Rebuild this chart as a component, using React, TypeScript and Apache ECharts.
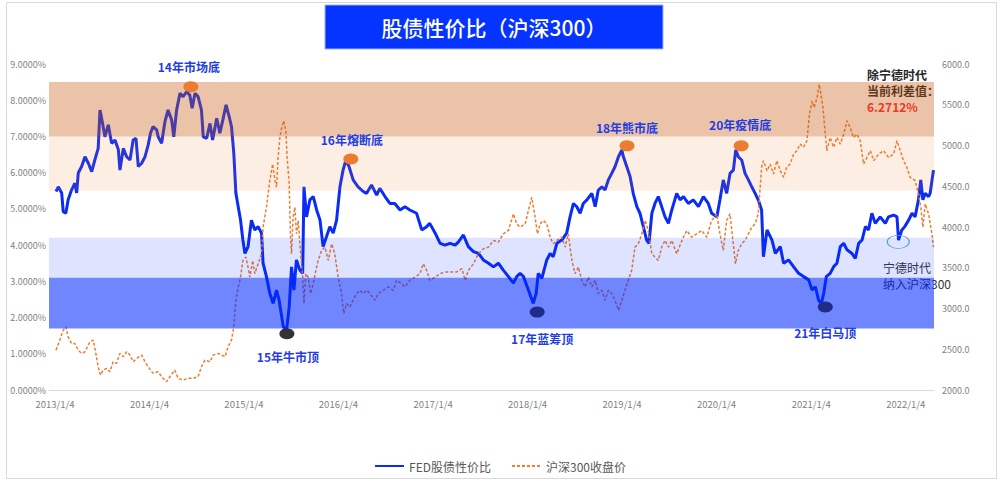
import React, { useEffect, useRef } from "react";
import * as echarts from "echarts";

// ---------- data ----------
const xTickLabels = ["2013/1/4", "2014/1/4", "2015/1/4", "2016/1/4", "2017/1/4", "2018/1/4", "2019/1/4", "2020/1/4", "2021/1/4", "2022/1/4"];
const xStart = "2012-12-12";
const xEnd = "2022-04-23";

// FED股债性价比 (%), left axis
const fedSeries: [string, number][] = [
  ["2013-01-08", 5.48], ["2013-01-17", 5.61], ["2013-01-30", 5.44], ["2013-02-05", 4.92], ["2013-02-15", 4.88], ["2013-02-24", 5.25], ["2013-03-09", 5.52], ["2013-03-22", 5.71], ["2013-03-29", 5.44], ["2013-04-04", 5.99], ["2013-04-17", 6.17], ["2013-04-30", 6.44], ["2013-05-13", 6.26], ["2013-05-26", 6.03], ["2013-06-07", 6.35], ["2013-06-20", 6.67], ["2013-06-27", 7.73], ["2013-07-07", 7.36], ["2013-07-16", 6.99], ["2013-07-29", 7.32], ["2013-08-11", 6.81], ["2013-08-24", 6.9], ["2013-09-06", 6.63], ["2013-09-12", 6.07], ["2013-09-25", 6.67], ["2013-10-08", 6.44], ["2013-10-21", 6.35], ["2013-11-02", 6.9], ["2013-11-13", 6.95], ["2013-11-22", 6.17], ["2013-12-05", 6.26], ["2013-12-18", 6.44], ["2013-12-30", 6.76],
  ["2014-01-08", 7.09], ["2014-01-18", 7.27], ["2014-02-01", 7.18], ["2014-02-07", 6.99], ["2014-02-20", 6.81], ["2014-03-05", 7.41], ["2014-03-17", 7.73], ["2014-03-31", 7.45], ["2014-04-08", 6.99], ["2014-04-19", 7.73], ["2014-05-02", 8.19], ["2014-05-14", 8.1], ["2014-05-28", 8.24], ["2014-06-09", 8.14], ["2014-06-18", 7.78], ["2014-06-29", 8.19], ["2014-07-11", 8.1], ["2014-07-24", 7.73], ["2014-07-31", 6.99], ["2014-08-13", 6.95], ["2014-08-26", 7.36], ["2014-09-05", 6.9], ["2014-09-21", 7.5], ["2014-10-03", 7.09], ["2014-10-16", 7.5], ["2014-10-27", 7.87], ["2014-11-08", 7.55], ["2014-11-17", 7.27], ["2014-11-26", 6.53], ["2014-12-04", 5.43], ["2014-12-13", 5.06], ["2014-12-22", 4.69], ["2014-12-31", 4.14],
  ["2015-01-08", 3.77], ["2015-01-20", 3.96], ["2015-02-02", 4.69], ["2015-02-15", 4.42], ["2015-02-28", 4.51], ["2015-03-13", 4.33], ["2015-03-19", 3.5], ["2015-04-01", 3.13], ["2015-04-14", 2.67], ["2015-04-27", 2.39], ["2015-05-10", 2.76], ["2015-05-20", 2.48], ["2015-06-05", 1.75], ["2015-06-18", 1.66], ["2015-06-28", 2.3], ["2015-07-07", 3.4], ["2015-07-16", 2.76], ["2015-07-26", 3.59], ["2015-08-08", 3.31], ["2015-08-19", 3.22], ["2015-08-24", 5.61], ["2015-09-03", 4.78], ["2015-09-16", 5.25], ["2015-09-29", 5.34], ["2015-10-12", 4.97], ["2015-10-25", 4.69], ["2015-11-06", 3.96], ["2015-11-19", 4.23], ["2015-12-02", 4.51], ["2015-12-15", 4.33], ["2015-12-28", 4.69],
  ["2016-01-10", 5.61], ["2016-01-22", 6.07], ["2016-02-02", 6.35], ["2016-02-14", 6.17], ["2016-03-01", 5.8], ["2016-03-20", 5.61], ["2016-04-09", 5.48], ["2016-04-22", 5.43], ["2016-05-11", 5.66], ["2016-05-31", 5.38], ["2016-06-12", 5.57], ["2016-07-02", 5.34], ["2016-07-21", 5.15], ["2016-08-09", 5.15], ["2016-08-29", 4.97], ["2016-09-17", 5.06], ["2016-10-06", 4.97], ["2016-11-01", 4.88], ["2016-11-21", 4.42], ["2016-12-10", 4.51], ["2016-12-22", 4.6],
  ["2017-01-12", 4.33], ["2017-01-31", 4.05], ["2017-02-19", 4.0], ["2017-03-10", 4.05], ["2017-03-30", 4.0], ["2017-04-12", 4.09], ["2017-05-01", 4.28], ["2017-05-20", 3.96], ["2017-06-09", 3.82], ["2017-06-28", 3.77], ["2017-07-17", 3.59], ["2017-08-06", 3.5], ["2017-08-25", 3.4], ["2017-09-13", 3.5], ["2017-10-02", 3.31], ["2017-10-22", 3.13], ["2017-11-10", 2.95], ["2017-11-23", 3.13], ["2017-12-06", 3.22], ["2017-12-19", 3.13],
  ["2018-01-07", 2.76], ["2018-01-26", 2.39], ["2018-02-06", 2.67], ["2018-02-14", 3.22], ["2018-02-28", 3.08], ["2018-03-19", 3.59], ["2018-04-01", 3.77], ["2018-04-13", 3.68], ["2018-04-27", 4.05], ["2018-05-16", 4.14], ["2018-06-04", 4.33], ["2018-06-17", 4.78], ["2018-06-30", 5.15], ["2018-07-13", 5.06], ["2018-07-26", 4.88], ["2018-08-07", 5.15], ["2018-08-21", 5.25], ["2018-09-09", 5.43], ["2018-09-22", 5.06], ["2018-10-04", 5.52], ["2018-10-18", 5.61], ["2018-10-30", 5.52], ["2018-11-12", 5.8], ["2018-11-25", 5.98], ["2018-12-08", 6.17], ["2018-12-21", 6.44],
  ["2019-01-03", 6.63], ["2019-01-09", 6.44], ["2019-01-22", 6.17], ["2019-02-04", 5.89], ["2019-02-16", 5.43], ["2019-03-02", 5.06], ["2019-03-14", 4.88], ["2019-03-27", 4.51], ["2019-04-09", 4.14], ["2019-04-18", 4.05], ["2019-04-29", 4.88], ["2019-05-11", 5.15], ["2019-05-24", 5.34], ["2019-06-06", 5.06], ["2019-06-19", 4.78], ["2019-07-02", 4.6], ["2019-07-15", 4.97], ["2019-08-03", 5.43], ["2019-08-16", 5.25], ["2019-08-29", 5.34], ["2019-09-17", 5.15], ["2019-10-06", 5.25], ["2019-10-26", 5.06], ["2019-11-14", 5.34], ["2019-12-03", 5.15], ["2019-12-16", 4.88],
  ["2020-01-05", 4.78], ["2020-01-17", 5.25], ["2020-01-30", 5.8], ["2020-02-12", 5.43], ["2020-02-25", 5.98], ["2020-03-09", 6.07], ["2020-03-18", 6.63], ["2020-03-28", 6.44], ["2020-04-10", 6.35], ["2020-04-23", 5.98], ["2020-05-06", 5.8], ["2020-05-19", 5.61], ["2020-06-01", 5.43], ["2020-06-13", 5.25], ["2020-06-26", 4.97], ["2020-07-03", 3.68], ["2020-07-17", 4.42], ["2020-08-05", 4.14], ["2020-08-18", 3.77], ["2020-09-06", 3.96], ["2020-09-19", 3.5], ["2020-10-08", 3.59], ["2020-10-28", 3.4], ["2020-11-16", 3.22], ["2020-12-05", 3.13], ["2020-12-25", 3.04],
  ["2021-01-07", 2.76], ["2021-01-20", 2.85], ["2021-02-01", 2.48], ["2021-02-12", 2.39], ["2021-02-21", 2.67], ["2021-03-03", 3.13], ["2021-03-18", 3.22], ["2021-03-31", 3.4], ["2021-04-13", 3.5], ["2021-04-26", 3.96], ["2021-05-09", 4.05], ["2021-05-22", 3.87], ["2021-06-10", 3.77], ["2021-06-23", 3.63], ["2021-07-06", 4.05], ["2021-07-19", 4.14], ["2021-08-01", 4.51], ["2021-08-13", 4.42], ["2021-08-26", 4.88], ["2021-09-08", 4.6], ["2021-09-27", 4.78], ["2021-10-17", 4.6], ["2021-10-29", 4.78], ["2021-11-18", 4.83], ["2021-12-01", 4.78], ["2021-12-07", 4.14], ["2021-12-20", 4.42], ["2021-12-31", 4.51],
  ["2022-01-15", 4.69], ["2022-01-28", 4.88], ["2022-02-09", 4.78], ["2022-02-22", 5.25], ["2022-03-03", 5.8], ["2022-03-11", 5.25], ["2022-03-20", 5.43], ["2022-04-02", 5.34], ["2022-04-08", 5.43], ["2022-04-21", 6.07],
];

// 沪深300收盘价, right axis
const hs300Series: [string, number][] = [
  ["2013-01-08", 2489], ["2013-01-23", 2612], ["2013-02-05", 2734], ["2013-02-15", 2775], ["2013-02-24", 2652], ["2013-03-09", 2571], ["2013-03-22", 2571], ["2013-04-04", 2489], ["2013-04-17", 2449], ["2013-04-30", 2469], ["2013-05-19", 2591], ["2013-06-01", 2612], ["2013-06-11", 2449], ["2013-06-20", 2285], ["2013-06-29", 2183], ["2013-07-09", 2245], ["2013-07-23", 2265], ["2013-08-04", 2224], ["2013-08-17", 2346], ["2013-08-30", 2326], ["2013-09-12", 2449], ["2013-09-25", 2408], ["2013-10-08", 2469], ["2013-10-21", 2428], ["2013-11-02", 2346], ["2013-11-16", 2387], ["2013-12-05", 2428], ["2013-12-18", 2346], ["2013-12-30", 2285],
  ["2014-01-18", 2204], ["2014-02-07", 2224], ["2014-02-20", 2163], ["2014-03-11", 2102], ["2014-03-24", 2163], ["2014-04-12", 2245], ["2014-04-25", 2143], ["2014-05-14", 2122], ["2014-06-03", 2143], ["2014-06-22", 2143], ["2014-07-11", 2163], ["2014-07-24", 2285], ["2014-08-06", 2367], ["2014-08-26", 2346], ["2014-09-07", 2428], ["2014-09-27", 2449], ["2014-10-10", 2428], ["2014-10-23", 2408], ["2014-11-04", 2530], ["2014-11-17", 2612], ["2014-11-26", 2775], ["2014-12-04", 3101], ["2014-12-13", 3264], ["2014-12-22", 3386], ["2014-12-31", 3590],
  ["2015-01-12", 3631], ["2015-01-20", 3508], ["2015-01-27", 3386], ["2015-02-07", 3590], ["2015-02-15", 3427], ["2015-02-28", 3549], ["2015-03-13", 3672], ["2015-03-19", 3998], ["2015-04-01", 4243], ["2015-04-14", 4569], ["2015-04-25", 4773], ["2015-05-04", 4569], ["2015-05-10", 4487], ["2015-05-16", 4854], ["2015-05-23", 5098], ["2015-05-30", 5221], ["2015-06-07", 5303], ["2015-06-15", 5180], ["2015-06-20", 4854], ["2015-06-28", 4528], ["2015-07-03", 3875], ["2015-07-07", 3672], ["2015-07-13", 4120], ["2015-07-20", 4243], ["2015-07-26", 3916], ["2015-08-02", 4080], ["2015-08-08", 3794], ["2015-08-19", 3386], ["2015-08-24", 3060], ["2015-08-31", 3427], ["2015-09-09", 3386], ["2015-09-19", 3183], ["2015-09-29", 3305], ["2015-10-09", 3468], ["2015-10-18", 3590], ["2015-10-31", 3712], ["2015-11-13", 3753], ["2015-11-26", 3590], ["2015-12-09", 3794], ["2015-12-21", 3672],
  ["2016-01-03", 3386], ["2016-01-16", 3183], ["2016-01-25", 2938], ["2016-02-04", 3060], ["2016-02-17", 3019], ["2016-03-01", 3101], ["2016-03-14", 3183], ["2016-03-27", 3223], ["2016-04-09", 3183], ["2016-04-22", 3223], ["2016-05-05", 3183], ["2016-05-24", 3101], ["2016-06-06", 3183], ["2016-06-25", 3223], ["2016-07-14", 3264], ["2016-08-03", 3223], ["2016-08-16", 3346], ["2016-09-04", 3305], ["2016-09-17", 3264], ["2016-10-06", 3346], ["2016-10-26", 3386], ["2016-11-14", 3427], ["2016-11-27", 3549], ["2016-12-10", 3468], ["2016-12-22", 3346],
  ["2017-01-12", 3386], ["2017-01-31", 3427], ["2017-02-19", 3448], ["2017-03-10", 3448], ["2017-04-05", 3448], ["2017-04-25", 3488], ["2017-05-08", 3346], ["2017-05-20", 3468], ["2017-06-09", 3549], ["2017-06-28", 3672], ["2017-07-17", 3733], ["2017-08-06", 3753], ["2017-08-25", 3835], ["2017-09-13", 3814], ["2017-10-02", 3916], ["2017-10-22", 3957], ["2017-11-10", 4161], ["2017-11-23", 4039], ["2017-12-06", 3998], ["2017-12-26", 4039],
  ["2018-01-07", 4202], ["2018-01-20", 4365], ["2018-02-02", 4120], ["2018-02-11", 3916], ["2018-02-21", 4039], ["2018-03-06", 4080], ["2018-03-19", 4039], ["2018-04-01", 3875], ["2018-04-13", 3794], ["2018-04-27", 3835], ["2018-05-16", 3875], ["2018-05-29", 3753], ["2018-06-10", 3916], ["2018-06-24", 3590], ["2018-07-06", 3427], ["2018-07-19", 3508], ["2018-08-01", 3346], ["2018-08-14", 3264], ["2018-08-27", 3386], ["2018-09-09", 3264], ["2018-09-22", 3346], ["2018-10-04", 3183], ["2018-10-18", 3223], ["2018-10-30", 3101], ["2018-11-12", 3223], ["2018-11-25", 3183], ["2018-12-08", 3101], ["2018-12-21", 2979],
  ["2019-01-03", 3101], ["2019-01-15", 3223], ["2019-01-28", 3346], ["2019-02-10", 3468], ["2019-02-23", 3753], ["2019-03-08", 3794], ["2019-03-21", 3916], ["2019-04-03", 4080], ["2019-04-15", 3957], ["2019-04-29", 3672], ["2019-05-11", 3631], ["2019-05-24", 3590], ["2019-06-06", 3753], ["2019-06-19", 3835], ["2019-07-02", 3753], ["2019-07-15", 3835], ["2019-08-03", 3672], ["2019-08-23", 3835], ["2019-09-11", 3957], ["2019-09-30", 3875], ["2019-10-19", 3916], ["2019-11-08", 3957], ["2019-11-27", 3875], ["2019-12-16", 4080],
  ["2020-01-05", 4161], ["2020-01-17", 3916], ["2020-01-30", 3712], ["2020-02-12", 4080], ["2020-02-25", 4161], ["2020-03-07", 3835], ["2020-03-17", 3549], ["2020-03-28", 3712], ["2020-04-10", 3794], ["2020-04-23", 3835], ["2020-05-06", 3916], ["2020-05-19", 3998], ["2020-06-01", 4039], ["2020-06-13", 4161], ["2020-06-26", 4732], ["2020-07-03", 4814], ["2020-07-17", 4691], ["2020-07-29", 4773], ["2020-08-11", 4651], ["2020-08-24", 4814], ["2020-09-06", 4691], ["2020-09-19", 4610], ["2020-10-01", 4732], ["2020-10-14", 4773], ["2020-10-28", 4895], ["2020-11-09", 4936], ["2020-11-22", 5017], ["2020-12-05", 4977], ["2020-12-18", 5058], ["2020-12-28", 5384],
  ["2021-01-07", 5547], ["2021-01-15", 5465], ["2021-01-26", 5588], ["2021-02-04", 5751], ["2021-02-10", 5629], ["2021-02-18", 5465], ["2021-02-27", 5139], ["2021-03-05", 4936], ["2021-03-18", 5098], ["2021-03-31", 4977], ["2021-04-13", 5098], ["2021-04-26", 5017], ["2021-05-09", 5139], ["2021-05-22", 5303], ["2021-06-03", 5221], ["2021-06-16", 5098], ["2021-06-29", 5139], ["2021-07-12", 5058], ["2021-07-25", 4773], ["2021-08-07", 4854], ["2021-08-20", 4936], ["2021-09-02", 4814], ["2021-09-21", 4895], ["2021-10-10", 4936], ["2021-10-29", 4854], ["2021-11-18", 4895], ["2021-12-01", 5058], ["2021-12-14", 4936], ["2021-12-26", 4814],
  ["2022-01-08", 4732], ["2022-01-21", 4610], ["2022-02-09", 4569], ["2022-02-22", 4406], ["2022-03-03", 4243], ["2022-03-11", 3998], ["2022-03-20", 4283], ["2022-04-02", 4161], ["2022-04-15", 3916], ["2022-04-21", 3753],
];

// zones on the left axis (%): [upper, lower]
const zoneBounds: [number, number][] = [[8.5, 7.0], [7.0, 5.5], [4.2, 3.1], [3.1, 1.7]];
const zoneColors = ["rgba(197,90,17,0.36)", "rgba(237,125,49,0.13)", "rgba(0,40,255,0.13)", "rgba(0,40,255,0.56)"];

// annotated turning points: name, date, value (%)
const eventNames = ["14年市场底", "16年熔断底", "15年牛市顶", "17年蓝筹顶", "18年熊市底", "20年疫情底", "21年白马顶"];
const eventDates = ["2014-06-13", "2016-02-21", "2015-06-19", "2018-02-10", "2019-01-23", "2020-04-08", "2021-02-27"];
const eventValues = [8.37, 6.38, 1.55, 2.15, 6.74, 6.74, 2.29];
const eventKinds = ["bottom", "bottom", "top", "top", "bottom", "bottom", "top"];
const catlDate = "2021-12-06";
const catlValue = 4.09;
const currentSpread = "6.2712%";

const leftTicks = { min: 0, max: 9, interval: 1 };
const rightTicks = { min: 2000, max: 6000, interval: 500 };

const FONT = "'Noto Sans CJK SC', 'Noto Sans', sans-serif";

const ts = (s: string) => {
  const [y, m, d] = s.split(/[-/]/).map(Number);
  return new Date(y, m - 1, d).getTime();
};

export default function App() {
  const ref = useRef<HTMLDivElement>(null);
  useEffect(() => {
    if (!ref.current) return;
    const chart = echarts.init(ref.current, undefined, { renderer: "svg" });

    const tickTimes = xTickLabels.map(ts);
    const labelFor = (v: number) => {
      const i = tickTimes.findIndex((t) => Math.abs(t - v) < 86400000);
      return i >= 0 ? xTickLabels[i] : "";
    };

    const dotColor = (i: number) => {
      if (eventKinds[i] === "bottom") return "#ec7c30";
      if (eventNames[i].startsWith("15")) return "#333333";
      return "#1f2c88";
    };
    const labelOffsets: [number, number][] = [[-2, -20], [1, -19], [1, 23], [5, 26], [0, -18], [-1, -21], [0, 25]];

    const markPointData: any[] = eventNames.map((n, i) => ({
      name: n,
      coord: [ts(eventDates[i]), eventValues[i]],
      symbol: "circle",
      symbolSize: [15, 11],
      itemStyle: { color: dotColor(i) },
      label: {
        show: true,
        position: "inside",
        offset: labelOffsets[i],
        formatter: n,
        color: "#1f3de0",
        fontSize: 12,
        fontWeight: "bold",
        fontFamily: FONT,
      },
    }));
    markPointData.push({
      name: "catl",
      coord: [ts(catlDate), catlValue],
      symbol: "circle",
      symbolSize: [22, 13],
      itemStyle: { color: "rgba(0,0,0,0)", borderColor: "#5b9bd5", borderWidth: 1 },
      label: { show: false },
    });

    // translucent zones drawn above the two lines (areas between lower and upper bound)
    const zoneSeries = zoneBounds.map((b, i) => ({
      name: "zone" + i,
      type: "line",
      yAxisIndex: 0,
      data: [[ts(xStart), b[0]], [ts(xEnd), b[0]]],
      symbol: "none",
      silent: true,
      z: 3,
      lineStyle: { width: 0, opacity: 0 },
      areaStyle: { origin: b[1], color: zoneColors[i], opacity: 1 },
    }));

    const option: any = {
      animation: false,
      textStyle: { fontFamily: FONT },
      grid: { left: 49, right: 66, top: 64, bottom: 92, containLabel: false },
      legend: {
        data: ["FED股债性价比", "沪深300收盘价"],
        left: "center",
        top: 455,
        itemWidth: 29,
        itemHeight: 14,
        itemGap: 20,
        itemStyle: { opacity: 0 },
        textStyle: { fontSize: 12, color: "#595959", fontFamily: FONT },
      },
      xAxis: {
        type: "value",
        min: ts(xStart),
        max: ts(xEnd),
        axisLine: { show: true, lineStyle: { color: "#d9d9d9", width: 1 } },
        axisTick: { show: false },
        splitLine: { show: false },
        axisLabel: {
          customValues: tickTimes,
          formatter: (v: number) => labelFor(v),
          color: "#7f7f7f",
          fontSize: 9.5,
          margin: 9,
          showMinLabel: true,
          showMaxLabel: true,
          hideOverlap: false,
        },
      },
      yAxis: [
        {
          type: "value",
          position: "left",
          ...leftTicks,
          axisLine: { show: false },
          axisTick: { show: false },
          splitLine: { show: false },
          axisLabel: { formatter: (v: number) => v.toFixed(4) + "%", color: "#7f7f7f", fontSize: 9, margin: 3 },
        },
        {
          type: "value",
          position: "right",
          ...rightTicks,
          axisLine: { show: false },
          axisTick: { show: false },
          splitLine: { show: false },
          axisLabel: { formatter: (v: number) => v.toFixed(1), color: "#7f7f7f", fontSize: 9, margin: 8 },
        },
      ],
      series: [
        {
          name: "FED股债性价比",
          type: "line",
          yAxisIndex: 0,
          data: fedSeries.map(([d, v]) => [ts(d), v]),
          symbol: "none",
          lineStyle: { color: "#0a2cf5", width: 3 },
          itemStyle: { color: "#0a2cf5" },
          z: 2,
          markPoint: { silent: true, data: markPointData },
        },
        {
          name: "沪深300收盘价",
          type: "line",
          yAxisIndex: 1,
          data: hs300Series.map(([d, v]) => [ts(d), v]),
          symbol: "none",
          lineStyle: { color: "#ED7D31", width: 1.5, type: [3, 2] },
          itemStyle: { color: "#ED7D31" },
          z: 2,
        },
        ...zoneSeries,
      ],
      graphic: [
        {
          type: "rect",
          z: -10,
          shape: { x: 6.5, y: 2.5, width: 990, height: 476 },
          style: { fill: "none", stroke: "#d9d9d9", lineWidth: 1 },
        },
        {
          type: "rect",
          z: 20,
          shape: { x: 325, y: 5, width: 338, height: 44 },
          style: { fill: "#0533ff", stroke: "#9fb0ff", lineWidth: 1 },
        },
        {
          type: "text",
          z: 21,
          x: 494,
          y: 27,
          style: {
            text: "股债性价比（沪深300）",
            fill: "#ffffff",
            font: `500 21px ${FONT}`,
            textAlign: "center",
            textVerticalAlign: "middle",
          },
        },
        {
          type: "text",
          z: 1,
          x: 867,
          y: 66,
          style: {
            text: "{a|除宁德时代}\n{a|当前利差值：}\n{b|" + currentSpread + "}",
            rich: {
              a: { fontSize: 12, fontWeight: "bold", fill: "#262626", lineHeight: 16, fontFamily: FONT },
              b: { fontSize: 12, fontWeight: "bold", fill: "#ff2d2d", lineHeight: 16, fontFamily: FONT },
            },
          },
        },
        {
          type: "text",
          z: 1,
          x: 883,
          y: 259,
          style: {
            text: "宁德时代\n纳入沪深300",
            fill: "#333333",
            font: `12px ${FONT}`,
            lineHeight: 16,
          },
        },
      ],
    };
    chart.setOption(option);
    return () => chart.dispose();
  }, []);
  return (
    <div
      ref={ref}
      style={{ position: "fixed", left: 0, top: 0, width: 1000, height: 482, background: "#ffffff" }}
    />
  );
}
